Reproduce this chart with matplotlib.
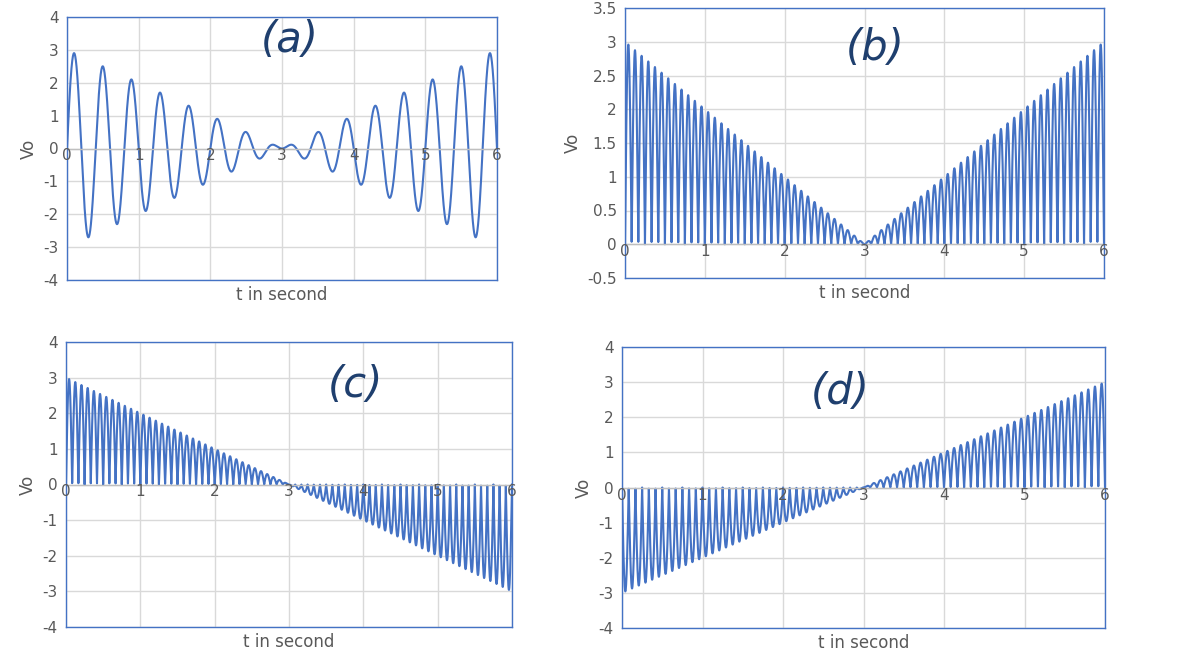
import numpy as np
import matplotlib
matplotlib.use("Agg")
import matplotlib.pyplot as plt
import matplotlib.transforms as mtrans

# data
x_ticks = [0, 1, 2, 3, 4, 5, 6]
env_t = [0, 3, 6]
env_a = [3, 0, -3]          # envelope (3 - t)
freq_a = 2.5                # Hz, panel (a)
freq_r = 6.0                # Hz, rectified panels
panels = ["(a)", "(b)", "(c)", "(d)"]
ylims = [(-4, 4, 1), (-0.5, 3.5, 0.5), (-4, 4, 1), (-4, 4, 1)]

t = np.linspace(0, 6, 6001)
env = np.interp(t, env_t, env_a)
sig = [env * np.sin(2*np.pi*freq_a*t),
       np.abs(env) * np.abs(np.sin(2*np.pi*freq_r*t)),
       env * np.abs(np.sin(2*np.pi*freq_r*t)),
       -env * np.abs(np.sin(2*np.pi*freq_r*t))]

W, H = 1185, 666
fig = plt.figure(figsize=(W/100, H/100), dpi=100)
boxes = [(67, 17, 497, 280), (625, 8, 1104, 278), (66, 342, 512, 627), (622, 347, 1105, 628)]
lblpos = [(290, 40), (875, 48), (355, 385), (840, 392)]
grey = "#595959"
for i in range(4):
    x0, y0, x1, y1 = boxes[i]
    ax = fig.add_axes([x0/W, 1-y1/H, (x1-x0)/W, (y1-y0)/H])
    ax.plot(t, sig[i], color="#4472C4", lw=1.5)
    lo, hi, st = ylims[i]
    ax.set_ylim(lo, hi)
    ax.set_xlim(0, 6)
    yt = np.arange(lo, hi + st/2, st)
    ax.set_yticks(yt)
    ax.set_yticklabels([f"{v:g}" for v in yt])
    ax.set_xticks(x_ticks)
    ax.set_xticklabels([])
    ax.grid(True, color="#D9D9D9", lw=1)
    ax.axhline(0, color="#BFBFBF", lw=1)
    ax.tick_params(length=0, labelsize=11, colors=grey, pad=6)
    for s in ax.spines.values():
        s.set_color("#4472C4" if i != 1 else "#4472C4")
        s.set_linewidth(1)
    tr = mtrans.blended_transform_factory(ax.transData, ax.transData)
    for v in x_ticks:
        ax.text(v, 0, str(v), transform=tr, ha="center", va="top",
                fontsize=11, color=grey)
    ax.set_ylabel("Vo", fontsize=12, color=grey)
    ax.set_xlabel("t in second", fontsize=12, color=grey, labelpad=-2)
    lx, ly = lblpos[i]
    fig.text(lx/W, 1-ly/H, panels[i], fontsize=30, color="#1F3F6E",
             ha="center", va="center", style="italic")
fig.savefig("out.png", dpi=100)
